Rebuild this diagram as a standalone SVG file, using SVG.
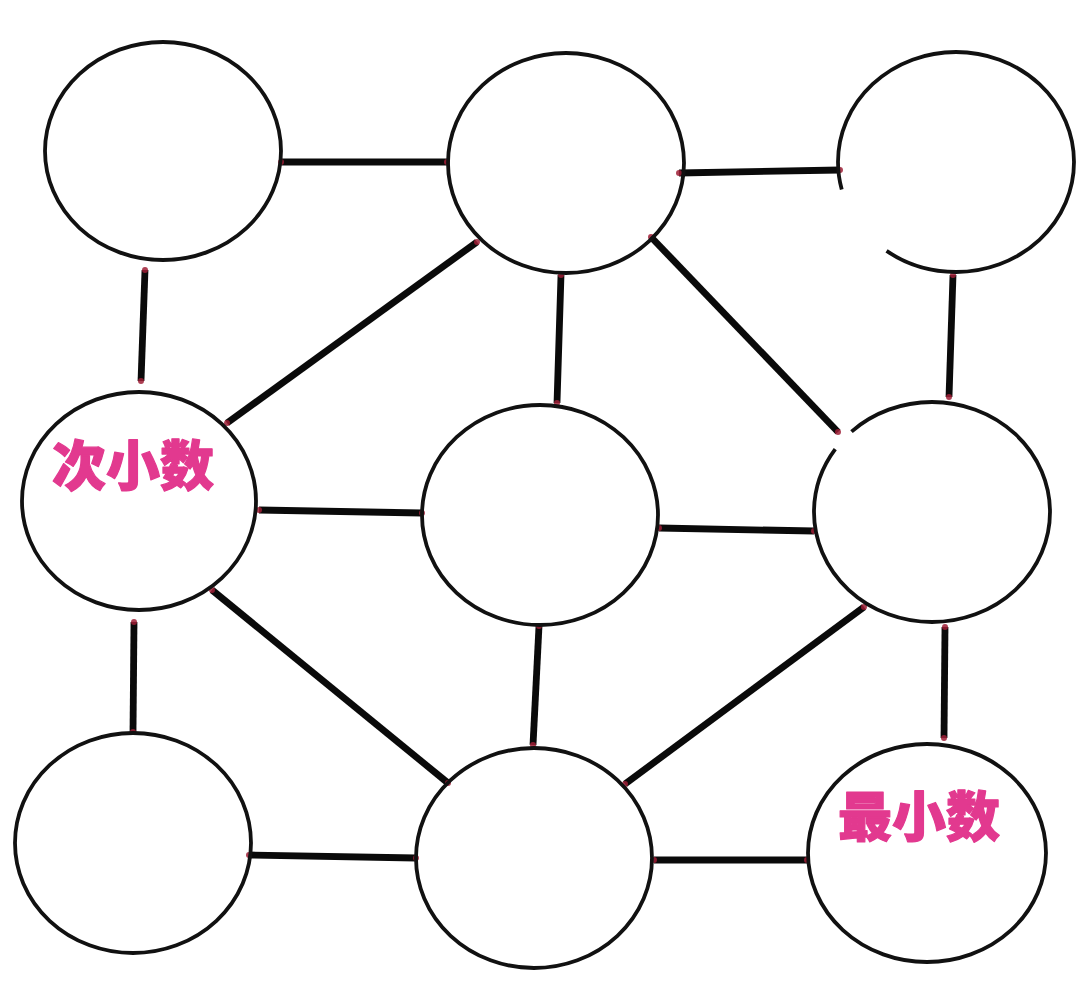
<svg xmlns="http://www.w3.org/2000/svg" width="1080" height="984" viewBox="0 0 1080 984">
<style>
.node ellipse{fill:none;stroke:#111;stroke-width:3.8}
.edges line{stroke:#0a0a0a;stroke-width:6.8;stroke-linecap:butt;marker-start:url(#dot);marker-end:url(#dot)}
.lbl{font-family:"Noto Sans CJK SC","Noto Sans CJK JP",sans-serif;font-weight:900;font-size:54px;fill:#e2398f;stroke:#e2398f;stroke-width:1.2;stroke-linejoin:round}
</style>
<defs>
<marker id="dot" viewBox="-5 -5 10 10" markerWidth="1.1" markerHeight="1.1" refX="0" refY="0" markerUnits="strokeWidth">
<circle r="4" fill="#9e1d35" opacity="0.85"/>
</marker>
</defs>
<rect width="1080" height="984" fill="#fff"/>
<g class="edges" id="connectors">
<line x1="281" y1="162" x2="447" y2="162"/>
<line x1="679" y1="173" x2="840" y2="170"/>
<line x1="145" y1="270" x2="141" y2="381"/>
<line x1="477" y1="242" x2="227" y2="423"/>
<line x1="561" y1="275" x2="557" y2="403"/>
<line x1="651" y1="237" x2="838" y2="432"/>
<line x1="953" y1="275" x2="949" y2="397"/>
<line x1="259" y1="510" x2="422" y2="513"/>
<line x1="659" y1="528" x2="814" y2="531"/>
<line x1="134" y1="622" x2="133" y2="732"/>
<line x1="212" y1="590" x2="448" y2="783"/>
<line x1="539" y1="626" x2="533" y2="745"/>
<line x1="864" y1="607" x2="625" y2="784"/>
<line x1="945" y1="627" x2="944" y2="738"/>
<line x1="249" y1="855" x2="416" y2="858"/>
<line x1="654" y1="860" x2="807" y2="860"/>
</g>
<g class="node" id="n1"><ellipse cx="163" cy="151" rx="118" ry="109"/></g>
<g class="node" id="n2"><ellipse cx="566" cy="163" rx="118" ry="110"/></g>
<g class="node" id="n3"><ellipse cx="956" cy="162" rx="118" ry="110" pathLength="360" stroke-dasharray="127 39 194"/></g>
<g class="node" id="n4"><ellipse cx="139" cy="501" rx="117" ry="109"/><text class="lbl" x="52" y="486">次小数</text></g>
<g class="node" id="n5"><ellipse cx="540" cy="515" rx="118" ry="110"/></g>
<g class="node" id="n6"><ellipse cx="932" cy="512" rx="118" ry="110" pathLength="360" stroke-dasharray="214 12 134"/></g>
<g class="node" id="n7"><ellipse cx="133" cy="843" rx="118" ry="110"/></g>
<g class="node" id="n8"><ellipse cx="534" cy="858" rx="118" ry="110"/></g>
<g class="node" id="n9"><ellipse cx="927" cy="853" rx="119" ry="109"/><text class="lbl" x="838" y="837">最小数</text></g>
</svg>
